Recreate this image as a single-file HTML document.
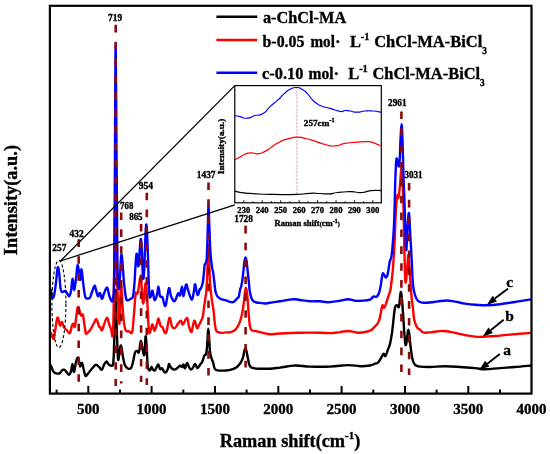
<!DOCTYPE html>
<html><head><meta charset="utf-8"><title>Raman spectra</title>
<style>
html,body{margin:0;padding:0;background:#fff;}
svg{display:block;}
text{font-family:'Liberation Serif','Times New Roman',serif;font-weight:bold;fill:#000;stroke:#000;stroke-width:0.35px;}
</style></head><body>
<svg width="550" height="454" viewBox="0 0 550 454">
<rect x="0" y="0" width="550" height="454" fill="#fff"/>

<g fill="none" stroke-width="2.4" stroke-linejoin="round" stroke-linecap="round">
<path stroke="#000" d="M50.3,365.9 C50.4,365.9 50.5,364.9 51.0,365.9 C51.5,366.9 52.2,369.4 53.0,370.8 C53.8,372.2 54.0,372.4 55.0,373.0 C56.0,373.6 57.0,373.6 58.0,373.6 C59.0,373.6 59.2,373.7 60.0,373.0 C60.8,372.3 61.2,371.0 62.0,370.3 C62.8,369.6 63.1,369.4 64.0,369.7 C64.9,370.0 65.5,371.0 66.5,372.0 C67.5,373.0 68.1,374.8 69.0,374.7 C69.9,374.6 70.3,373.5 71.0,371.4 C71.7,369.3 71.9,364.1 72.5,364.2 C73.1,364.3 73.3,372.4 74.0,372.0 C74.7,371.6 75.1,364.9 76.0,362.0 C76.9,359.1 77.5,356.7 78.3,357.6 C79.1,358.5 79.3,365.3 80.0,366.4 C80.7,367.5 81.2,362.1 82.0,363.0 C82.8,363.9 83.3,368.2 84.0,370.8 C84.7,373.4 84.7,375.2 85.5,375.8 C86.3,376.4 86.9,374.8 88.0,373.6 C89.1,372.4 90.0,370.9 91.0,369.7 C92.0,368.5 92.0,368.5 93.0,367.5 C94.0,366.5 94.8,364.9 96.0,364.8 C97.2,364.7 98.2,366.4 99.0,367.0 C99.8,367.6 99.4,367.5 100.0,368.0 C100.6,368.5 101.2,370.4 102.0,369.7 C102.8,369.0 103.1,366.4 104.0,364.7 C104.9,363.0 105.7,361.6 106.5,361.4 C107.3,361.2 107.3,362.8 108.0,363.6 C108.7,364.4 109.2,365.0 110.0,365.3 C110.8,365.6 111.3,366.4 112.0,365.3 C112.7,364.2 112.9,369.1 113.5,360.0 C114.1,350.9 114.4,334.0 114.8,320.0 C115.2,306.0 115.3,288.0 115.7,290.0 C116.1,292.0 116.3,316.3 116.8,330.0 C117.3,343.7 117.5,354.3 118.0,358.7 C118.5,363.1 118.9,354.6 119.5,352.0 C120.1,349.4 120.3,344.5 121.0,345.5 C121.7,346.5 122.2,353.0 123.0,357.0 C123.8,361.0 124.0,363.0 125.0,365.3 C126.0,367.6 126.8,368.1 128.0,368.6 C129.2,369.1 130.0,369.3 131.0,368.0 C132.0,366.7 132.2,365.1 133.0,362.0 C133.8,358.9 134.2,354.8 135.0,352.6 C135.8,350.4 136.2,351.1 137.0,351.0 C137.8,350.9 138.2,354.1 139.0,352.0 C139.8,349.9 140.1,340.7 140.9,340.6 C141.7,340.5 142.3,348.8 143.0,351.5 C143.7,354.2 143.9,357.0 144.5,354.0 C145.1,351.0 145.2,334.6 145.8,336.4 C146.4,338.2 147.0,356.5 147.5,363.0 C148.0,369.5 148.0,367.5 148.5,369.0 C149.0,370.5 149.4,370.7 150.0,370.3 C150.6,369.9 150.9,367.1 151.5,367.0 C152.1,366.9 152.3,368.9 153.0,369.6 C153.7,370.3 154.2,371.0 155.0,370.3 C155.8,369.6 156.3,367.4 157.0,366.3 C157.7,365.2 157.9,364.1 158.5,364.6 C159.1,365.1 159.3,368.3 160.0,369.0 C160.7,369.7 161.2,367.8 162.0,368.3 C162.8,368.8 163.2,370.8 164.0,371.6 C164.8,372.4 165.2,373.0 166.0,372.3 C166.8,371.6 167.4,370.0 168.0,368.3 C168.6,366.6 168.4,364.1 169.0,364.0 C169.6,363.9 170.0,366.5 171.0,367.6 C172.0,368.7 172.8,369.5 174.0,369.6 C175.2,369.7 175.8,369.1 177.0,368.3 C178.2,367.5 179.0,366.0 180.0,365.7 C181.0,365.4 181.3,367.2 182.0,367.0 C182.7,366.8 182.9,364.3 183.5,364.6 C184.1,364.9 184.3,368.6 185.0,368.3 C185.7,368.0 186.2,363.3 187.0,363.0 C187.8,362.7 188.2,365.7 189.0,367.0 C189.8,368.3 190.2,369.5 191.0,369.6 C191.8,369.7 192.2,368.7 193.0,367.6 C193.8,366.5 194.2,364.0 195.0,364.0 C195.8,364.0 196.4,366.9 197.0,367.6 C197.6,368.3 197.3,368.1 198.0,367.5 C198.7,366.9 199.5,365.5 200.3,364.4 C201.1,363.3 201.6,363.2 202.2,362.0 C202.8,360.8 202.9,359.7 203.4,358.3 C203.9,356.9 204.1,356.0 204.6,355.2 C205.1,354.4 205.4,355.7 205.9,354.3 C206.4,352.9 206.6,351.6 206.9,348.4 C207.2,345.2 207.2,342.5 207.5,338.5 C207.8,334.5 208.0,328.6 208.3,328.6 C208.6,328.6 208.9,334.3 209.2,338.5 C209.5,342.7 209.5,346.1 209.8,349.6 C210.1,353.1 210.4,353.8 210.8,355.8 C211.2,357.8 211.5,358.0 212.0,359.5 C212.5,361.0 212.8,361.5 213.3,363.2 C213.8,364.9 213.9,366.7 214.5,368.1 C215.1,369.5 215.4,369.5 216.4,370.0 C217.4,370.5 218.0,370.5 219.5,370.6 C221.0,370.7 222.3,370.7 224.0,370.6 C225.7,370.5 226.6,370.4 228.0,370.2 C229.4,370.0 229.4,370.2 231.0,369.7 C232.6,369.2 234.1,368.9 235.9,367.7 C237.7,366.5 238.5,365.8 239.9,363.8 C241.3,361.8 242.0,360.4 242.9,357.8 C243.8,355.2 243.8,353.0 244.3,351.0 C244.8,349.0 245.0,347.9 245.4,347.9 C245.8,347.9 246.0,349.0 246.5,351.0 C247.0,353.0 247.2,355.0 247.8,357.8 C248.4,360.6 248.5,362.8 249.3,364.8 C250.1,366.8 250.1,366.9 251.8,367.7 C253.5,368.5 255.4,368.5 257.8,368.7 C260.2,368.9 261.6,368.7 264.0,368.7 C266.4,368.7 266.8,368.9 270.0,368.7 C273.2,368.5 275.0,368.2 280.0,367.6 C285.0,367.0 289.0,365.7 295.0,365.5 C301.0,365.3 303.0,366.4 310.0,366.6 C317.0,366.8 322.4,366.9 330.0,366.6 C337.6,366.3 342.0,365.2 348.0,365.1 C354.0,365.0 355.6,366.1 360.0,366.2 C364.4,366.3 367.0,366.0 370.0,365.5 C373.0,365.0 373.4,364.3 375.0,363.7 C376.6,363.1 376.8,363.7 378.0,362.6 C379.2,361.5 379.9,360.0 381.0,358.2 C382.1,356.4 382.6,354.2 383.5,353.8 C384.4,353.4 384.6,356.9 385.5,356.0 C386.4,355.1 387.1,351.8 388.0,349.4 C388.9,347.0 389.2,347.2 390.0,343.9 C390.8,340.6 391.3,337.8 392.0,332.9 C392.7,328.0 392.9,324.7 393.5,319.6 C394.1,314.5 394.3,310.4 395.0,307.5 C395.7,304.6 396.2,305.5 397.0,305.3 C397.8,305.1 398.2,309.0 399.0,306.4 C399.8,303.8 400.2,290.8 401.0,292.1 C401.8,293.4 402.3,304.4 403.0,313.0 C403.7,321.6 403.9,328.6 404.5,335.0 C405.1,341.4 405.2,346.1 406.0,345.0 C406.8,343.9 407.6,329.4 408.5,329.6 C409.4,329.8 409.7,340.1 410.5,346.0 C411.3,351.9 411.6,355.5 412.5,359.3 C413.4,363.1 413.5,363.3 415.0,364.8 C416.5,366.3 417.0,366.2 420.0,366.6 C423.0,367.0 425.0,367.1 430.0,367.0 C435.0,366.9 439.0,366.3 445.0,366.3 C451.0,366.3 454.0,366.6 460.0,367.0 C466.0,367.4 470.0,367.7 475.0,368.1 C480.0,368.5 480.0,369.2 485.0,369.2 C490.0,369.2 494.0,368.5 500.0,368.1 C506.0,367.7 508.8,367.5 515.0,367.0 C521.2,366.5 527.8,365.8 531.0,365.5"/>
<path stroke="#ff0000" d="M50.3,333.0 C50.4,333.0 50.4,331.8 51.0,333.0 C51.6,334.2 52.7,339.2 53.5,339.0 C54.3,338.8 54.2,336.3 55.0,332.0 C55.8,327.7 56.5,318.9 57.5,317.6 C58.5,316.3 59.1,324.4 60.0,325.3 C60.9,326.2 61.2,321.6 62.0,322.0 C62.8,322.4 63.0,325.8 64.0,327.5 C65.0,329.2 65.8,329.2 67.0,330.3 C68.2,331.4 69.0,334.0 70.0,333.0 C71.0,332.0 71.3,327.2 72.0,325.3 C72.7,323.4 72.9,323.5 73.5,323.7 C74.1,323.9 74.3,328.9 75.0,326.4 C75.7,323.9 76.3,314.8 77.0,311.0 C77.7,307.2 77.7,306.3 78.5,307.2 C79.3,308.1 80.1,313.8 81.0,315.4 C81.9,317.0 82.1,312.1 83.0,315.4 C83.9,318.7 84.7,328.5 85.5,332.0 C86.3,335.5 86.1,333.3 87.0,333.0 C87.9,332.7 88.6,332.3 90.0,330.3 C91.4,328.3 92.7,325.2 94.0,323.0 C95.3,320.8 95.5,318.6 96.5,319.3 C97.5,320.0 98.3,324.9 99.0,326.4 C99.7,327.9 99.4,326.2 100.0,327.0 C100.6,327.8 101.2,330.7 102.0,330.2 C102.8,329.7 103.0,327.2 104.0,324.7 C105.0,322.2 106.0,317.8 107.0,317.6 C108.0,317.4 108.2,321.3 109.0,323.6 C109.8,325.9 110.2,326.7 111.0,329.1 C111.8,331.5 112.3,339.4 112.8,335.6 C113.3,331.8 113.3,325.1 113.6,310.0 C113.9,294.9 114.0,282.0 114.3,260.0 C114.6,238.0 114.8,201.0 115.2,200.0 C115.6,199.0 115.8,238.0 116.2,255.0 C116.6,272.0 116.8,275.6 117.2,285.0 C117.6,294.4 117.7,294.2 118.2,302.0 C118.7,309.8 119.1,324.4 119.5,324.0 C119.9,323.6 120.0,307.4 120.3,300.0 C120.6,292.6 120.7,288.6 121.0,287.0 C121.3,285.4 121.5,288.4 121.8,292.0 C122.1,295.6 122.2,299.8 122.5,305.0 C122.8,310.2 123.0,313.8 123.4,318.0 C123.8,322.2 124.0,323.4 124.5,326.0 C125.0,328.6 125.1,329.7 126.0,330.8 C126.9,331.9 127.8,331.0 129.0,331.3 C130.2,331.6 131.1,334.7 132.0,332.4 C132.9,330.1 132.8,327.5 133.5,320.0 C134.2,312.5 134.9,300.2 135.5,295.0 C136.1,289.8 136.0,294.4 136.5,293.8 C137.0,293.2 137.1,295.3 138.0,292.0 C138.9,288.7 139.8,275.1 140.8,277.4 C141.8,279.7 142.0,302.4 143.0,303.5 C144.0,304.6 144.9,282.7 145.8,283.0 C146.7,283.3 146.9,295.3 147.5,305.0 C148.1,314.7 148.3,326.8 149.0,331.5 C149.7,336.2 150.3,330.1 151.0,328.7 C151.7,327.3 151.8,324.0 152.5,324.4 C153.2,324.8 153.6,331.0 154.5,330.8 C155.4,330.6 156.2,326.0 157.0,323.6 C157.8,321.2 157.8,318.2 158.5,318.6 C159.2,319.0 159.7,324.1 160.5,325.8 C161.3,327.5 161.7,325.9 162.5,327.2 C163.3,328.5 163.7,331.3 164.5,332.2 C165.3,333.1 165.5,334.4 166.5,331.5 C167.5,328.6 168.4,318.9 169.5,317.9 C170.6,316.9 170.9,324.5 172.0,326.5 C173.1,328.5 173.8,328.6 175.0,328.0 C176.2,327.4 176.8,325.0 178.0,323.6 C179.2,322.2 180.0,320.6 181.0,320.8 C182.0,321.0 181.8,325.0 183.0,324.4 C184.2,323.8 185.8,317.5 187.0,317.9 C188.2,318.3 188.1,323.7 189.0,326.5 C189.9,329.3 190.7,332.4 191.5,332.0 C192.3,331.6 192.4,326.8 193.1,324.6 C193.8,322.4 194.0,320.1 194.8,320.8 C195.6,321.5 196.1,327.2 197.0,328.0 C197.9,328.8 198.3,326.2 199.2,324.6 C200.1,323.0 200.6,322.0 201.4,320.2 C202.2,318.4 202.5,318.4 203.0,315.8 C203.5,313.2 203.7,310.3 204.1,307.0 C204.5,303.7 204.8,302.4 205.2,299.3 C205.6,296.2 205.9,296.5 206.3,291.6 C206.7,286.7 206.8,284.3 207.2,275.0 C207.6,265.7 207.8,246.0 208.3,245.0 C208.8,244.0 209.1,262.0 209.5,270.0 C209.9,278.0 209.7,279.1 210.2,285.0 C210.7,290.9 211.1,294.2 211.8,299.3 C212.5,304.4 212.9,305.9 213.5,310.3 C214.1,314.7 214.2,317.6 214.6,321.3 C215.0,325.0 215.2,326.9 215.7,329.0 C216.2,331.1 216.1,331.0 217.3,331.8 C218.5,332.6 220.0,332.8 221.7,332.9 C223.4,333.0 224.2,332.5 226.0,332.4 C227.8,332.3 228.7,332.8 230.6,332.2 C232.5,331.6 233.9,331.2 235.7,329.3 C237.5,327.4 238.2,326.0 239.5,322.9 C240.8,319.8 241.1,318.3 242.0,314.0 C242.9,309.7 243.4,305.6 244.0,301.2 C244.6,296.8 244.6,294.7 245.0,292.0 C245.4,289.3 245.5,287.7 245.9,287.7 C246.3,287.7 246.5,289.3 246.9,292.0 C247.3,294.7 247.4,295.8 247.8,301.2 C248.2,306.6 248.5,313.4 249.1,319.0 C249.7,324.6 249.6,326.9 251.0,329.3 C252.4,331.7 253.5,330.4 256.1,331.2 C258.7,332.0 261.2,332.5 264.0,333.1 C266.8,333.7 266.8,334.1 270.0,334.2 C273.2,334.3 274.0,333.8 280.0,333.5 C286.0,333.2 292.0,332.9 300.0,332.7 C308.0,332.5 314.0,332.6 320.0,332.7 C326.0,332.8 326.0,333.2 330.0,333.1 C334.0,333.0 336.4,332.5 340.0,332.1 C343.6,331.7 345.0,331.0 348.0,331.0 C351.0,331.0 352.6,331.8 355.0,332.1 C357.4,332.4 357.0,333.0 360.0,332.7 C363.0,332.4 367.0,331.9 370.0,330.6 C373.0,329.3 373.4,327.8 375.0,326.3 C376.6,324.8 377.0,324.8 378.0,323.0 C379.0,321.2 379.2,320.3 379.9,317.5 C380.6,314.7 381.0,311.5 381.5,309.0 C382.0,306.5 382.0,305.4 382.6,305.2 C383.2,305.0 383.5,308.4 384.3,307.8 C385.1,307.2 385.7,304.4 386.5,302.0 C387.3,299.6 387.7,298.4 388.5,296.0 C389.3,293.6 389.8,293.0 390.4,290.0 C391.0,287.0 391.1,285.0 391.6,281.0 C392.1,277.0 392.4,274.7 392.8,270.0 C393.2,265.3 393.3,263.6 393.7,257.6 C394.1,251.6 394.3,249.1 394.7,240.0 C395.1,230.9 395.3,220.9 395.8,212.0 C396.3,203.1 396.8,198.4 397.3,195.6 C397.8,192.8 398.0,200.1 398.5,198.0 C399.0,195.9 399.4,190.6 400.0,185.0 C400.6,179.4 400.9,169.0 401.5,170.0 C402.1,171.0 402.5,178.0 403.0,190.0 C403.5,202.0 403.7,217.0 404.0,230.0 C404.3,243.0 404.2,244.6 404.5,255.0 C404.8,265.4 405.0,279.0 405.5,282.0 C406.0,285.0 406.4,275.4 407.0,270.0 C407.6,264.6 407.9,253.7 408.5,255.0 C409.1,256.3 409.4,268.2 410.0,276.5 C410.6,284.8 410.9,289.9 411.5,296.3 C412.1,302.7 412.5,304.2 413.0,308.6 C413.5,313.0 413.4,315.2 414.0,318.5 C414.6,321.8 415.2,323.2 416.0,325.2 C416.8,327.2 417.2,327.6 418.0,328.5 C418.8,329.4 419.0,328.8 420.0,329.6 C421.0,330.4 421.0,331.8 423.0,332.4 C425.0,333.0 426.6,332.7 430.0,332.4 C433.4,332.1 436.6,331.3 440.0,331.1 C443.4,330.9 444.0,330.9 447.0,331.3 C450.0,331.7 451.4,332.1 455.0,332.9 C458.6,333.7 461.0,334.4 465.0,335.1 C469.0,335.8 471.4,336.3 475.0,336.6 C478.6,336.9 479.0,336.9 483.0,336.8 C487.0,336.7 489.6,336.4 495.0,336.0 C500.4,335.6 502.8,335.2 510.0,334.6 C517.2,334.0 526.8,333.2 531.0,332.9"/>
<path stroke="#0000ff" d="M50.3,290.5 C50.4,290.4 50.7,288.8 51.0,290.2 C51.3,291.6 51.4,296.3 52.0,297.4 C52.6,298.5 53.2,298.7 54.0,295.7 C54.8,292.7 55.3,288.0 56.0,282.5 C56.7,277.0 56.9,270.4 57.5,268.2 C58.1,266.0 58.4,267.5 59.0,271.5 C59.6,275.5 59.9,283.9 60.5,288.0 C61.1,292.1 61.1,291.3 62.0,291.9 C62.9,292.5 64.0,290.8 65.0,291.0 C66.0,291.2 66.2,291.9 67.0,293.0 C67.8,294.1 68.2,296.6 69.0,296.3 C69.8,296.0 70.3,294.8 71.0,291.3 C71.7,287.8 71.9,279.0 72.5,278.7 C73.1,278.4 73.3,289.9 74.0,290.0 C74.7,290.1 75.2,284.0 76.0,279.0 C76.8,274.0 77.0,264.8 77.8,265.0 C78.6,265.2 79.3,278.9 80.0,279.8 C80.7,280.7 80.9,269.0 81.5,269.3 C82.1,269.6 82.3,276.1 83.0,281.4 C83.7,286.7 84.2,292.3 85.0,295.7 C85.8,299.1 86.0,298.2 87.0,298.5 C88.0,298.8 89.0,298.7 90.0,297.4 C91.0,296.1 91.1,294.3 92.0,292.0 C92.9,289.7 93.7,286.2 94.5,285.8 C95.3,285.4 95.3,287.9 96.0,290.0 C96.7,292.1 97.2,295.7 98.0,296.3 C98.8,296.9 99.2,292.5 100.0,293.0 C100.8,293.5 101.2,298.9 102.0,299.0 C102.8,299.1 103.0,295.8 104.0,293.5 C105.0,291.2 106.0,287.3 107.0,287.5 C108.0,287.7 108.2,292.1 109.0,294.6 C109.8,297.1 110.2,299.3 111.0,300.0 C111.8,300.7 112.3,304.0 113.0,298.0 C113.7,292.0 113.9,299.6 114.3,270.0 C114.7,240.4 114.7,195.2 115.0,150.0 C115.3,104.8 115.4,44.0 115.7,44.0 C116.0,44.0 116.2,106.8 116.5,150.0 C116.8,193.2 117.0,232.3 117.4,260.0 C117.8,287.7 118.2,285.2 118.7,288.6 C119.2,292.0 119.3,283.8 119.9,277.0 C120.5,270.2 120.8,253.5 121.6,254.6 C122.4,255.7 123.1,273.8 124.0,282.5 C124.9,291.2 125.2,294.5 126.0,298.0 C126.8,301.5 127.0,300.1 128.0,300.2 C129.0,300.3 130.0,299.3 131.0,298.5 C132.0,297.7 132.3,299.5 133.0,296.3 C133.7,293.1 133.8,291.0 134.5,282.5 C135.2,274.0 135.7,257.3 136.5,254.0 C137.3,250.7 137.6,269.0 138.5,266.0 C139.4,263.0 140.0,236.7 141.0,239.2 C142.0,241.7 142.4,281.7 143.5,278.7 C144.6,275.7 145.3,222.5 146.4,224.4 C147.5,226.3 148.2,273.5 149.0,288.0 C149.8,302.5 149.8,296.3 150.5,296.8 C151.2,297.3 151.7,290.1 152.5,290.7 C153.3,291.3 153.6,299.2 154.5,300.0 C155.4,300.8 156.2,297.3 157.0,294.6 C157.8,291.9 157.9,286.4 158.5,286.7 C159.1,287.0 159.2,293.9 160.0,296.0 C160.8,298.1 161.7,295.9 162.5,297.3 C163.3,298.7 163.4,301.5 164.0,303.2 C164.6,304.9 164.9,306.8 165.5,305.9 C166.1,305.0 166.3,302.2 167.0,298.6 C167.7,295.0 168.2,288.5 169.0,288.0 C169.8,287.5 170.0,293.3 171.0,296.0 C172.0,298.7 173.0,300.8 174.0,301.3 C175.0,301.8 175.2,300.2 176.0,298.6 C176.8,297.0 177.2,294.0 178.0,293.3 C178.8,292.6 179.2,296.6 180.0,295.3 C180.8,294.0 181.3,286.6 182.0,286.7 C182.7,286.8 182.7,296.4 183.5,296.0 C184.3,295.6 185.1,285.9 186.0,284.7 C186.9,283.5 187.0,287.2 188.0,290.0 C189.0,292.8 190.1,297.0 191.0,298.6 C191.9,300.2 192.0,300.0 192.6,298.2 C193.2,296.4 193.7,292.1 194.2,289.4 C194.7,286.7 194.5,283.4 195.2,284.5 C195.9,285.6 196.6,293.9 197.5,294.9 C198.4,295.9 199.1,290.6 199.7,289.4 C200.3,288.2 200.0,290.1 200.6,288.9 C201.2,287.7 201.9,286.8 202.6,283.6 C203.3,280.4 203.5,276.7 203.9,273.0 C204.3,269.3 204.3,266.9 204.6,265.1 C204.9,263.3 204.9,264.9 205.3,263.8 C205.7,262.7 206.2,263.2 206.6,259.8 C207.0,256.4 206.9,253.6 207.2,246.6 C207.5,239.6 207.6,233.6 207.9,225.0 C208.2,216.4 208.2,203.5 208.5,203.5 C208.8,203.5 209.0,217.7 209.3,225.0 C209.6,232.3 209.7,234.4 209.9,240.0 C210.1,245.6 210.1,247.9 210.5,253.2 C210.9,258.5 211.4,262.4 211.9,266.4 C212.4,270.4 212.7,269.6 213.2,273.0 C213.7,276.4 214.0,279.6 214.5,283.6 C215.0,287.6 215.1,290.2 215.8,292.8 C216.5,295.4 216.8,295.6 217.8,296.8 C218.8,298.0 219.0,298.1 220.6,298.8 C222.2,299.5 224.5,299.9 226.0,300.4 C227.5,300.9 226.6,300.8 228.0,301.2 C229.4,301.6 231.3,302.7 233.1,302.2 C234.9,301.7 235.8,299.7 236.9,298.6 C238.0,297.5 238.2,298.3 238.8,296.5 C239.4,294.7 239.6,291.8 240.1,289.7 C240.6,287.6 240.8,288.1 241.3,286.0 C241.8,283.9 242.0,282.5 242.5,279.0 C243.0,275.5 243.3,272.2 243.7,268.5 C244.1,264.8 244.2,262.7 244.6,260.5 C245.0,258.3 245.2,257.4 245.6,257.4 C246.0,257.4 246.1,258.3 246.5,260.5 C246.9,262.7 247.0,264.4 247.4,268.5 C247.8,272.6 248.2,276.2 248.7,280.9 C249.2,285.6 249.3,288.5 249.9,292.0 C250.5,295.5 250.9,296.7 251.6,298.5 C252.3,300.3 252.5,300.4 253.5,301.2 C254.5,302.0 255.4,302.2 256.7,302.5 C258.0,302.8 258.3,302.7 260.0,302.9 C261.7,303.1 263.0,303.5 265.0,303.5 C267.0,303.5 267.0,303.2 270.0,302.8 C273.0,302.4 276.0,301.9 280.0,301.3 C284.0,300.7 287.0,300.0 290.0,299.6 C293.0,299.2 293.0,299.1 295.0,299.2 C297.0,299.3 297.0,299.6 300.0,300.0 C303.0,300.4 306.0,301.0 310.0,301.3 C314.0,301.6 316.4,301.1 320.0,301.3 C323.6,301.5 324.0,302.3 328.0,302.2 C332.0,302.1 336.0,301.3 340.0,300.7 C344.0,300.1 345.0,299.2 348.0,299.2 C351.0,299.2 352.2,300.4 355.0,300.7 C357.8,301.0 359.0,300.9 362.0,300.7 C365.0,300.5 367.7,300.4 370.0,299.6 C372.3,298.8 372.0,297.2 373.3,296.6 C374.6,296.0 375.5,297.4 376.6,296.8 C377.7,296.2 378.0,295.5 378.8,293.5 C379.6,291.5 379.9,289.9 380.5,287.0 C381.1,284.1 381.2,281.9 381.6,279.2 C382.0,276.5 382.3,274.7 382.7,273.7 C383.1,272.7 383.1,273.5 383.8,274.3 C384.5,275.1 385.2,277.6 386.0,277.6 C386.8,277.6 387.1,276.2 387.6,274.3 C388.1,272.4 388.3,270.7 388.7,268.2 C389.1,265.7 389.2,264.0 389.8,261.6 C390.4,259.2 390.9,259.7 391.5,256.1 C392.1,252.5 392.3,249.7 392.8,243.5 C393.3,237.3 393.6,233.7 394.0,225.0 C394.4,216.3 394.5,210.0 394.8,200.0 C395.1,190.0 395.1,183.3 395.5,175.0 C395.9,166.7 395.9,160.4 396.6,158.6 C397.3,156.8 398.4,169.6 399.2,165.9 C400.0,162.2 400.0,148.4 400.5,140.0 C401.0,131.6 401.1,124.1 401.5,124.1 C401.9,124.1 402.1,128.8 402.5,140.0 C402.9,151.2 403.2,168.0 403.6,180.0 C404.0,192.0 404.0,189.0 404.4,200.0 C404.8,211.0 405.1,225.0 405.5,235.0 C405.9,245.0 405.9,249.0 406.2,250.0 C406.5,251.0 406.5,247.4 407.0,240.0 C407.5,232.6 408.0,213.9 408.7,212.9 C409.4,211.9 409.7,225.6 410.3,235.0 C410.9,244.4 411.2,250.1 411.7,260.0 C412.2,269.9 412.3,277.4 413.0,284.4 C413.7,291.4 414.0,291.7 415.0,295.0 C416.0,298.3 416.4,299.4 418.0,300.9 C419.6,302.4 420.6,302.4 423.0,302.7 C425.4,303.0 427.0,302.8 430.0,302.5 C433.0,302.2 434.6,301.8 438.0,301.4 C441.4,301.0 443.6,300.5 447.0,300.5 C450.4,300.5 451.4,301.0 455.0,301.6 C458.6,302.2 461.0,303.0 465.0,303.6 C469.0,304.2 470.6,304.4 475.0,304.7 C479.4,305.0 482.0,305.4 487.0,305.3 C492.0,305.2 494.4,304.9 500.0,304.2 C505.6,303.5 508.8,303.0 515.0,302.0 C521.2,301.0 527.8,299.9 531.0,299.4"/>
</g>
<g stroke="#8b0a0a" stroke-width="2.6" fill="none" stroke-dasharray="7.6 9.27">
<line x1="78.7" y1="239.3" x2="78.7" y2="382"/>
<line x1="115.7" y1="24.8" x2="115.7" y2="386"/>
<line x1="121.2" y1="212.5" x2="121.2" y2="383.5"/>
<line x1="141.1" y1="224" x2="141.1" y2="382"/>
<line x1="146.8" y1="192.7" x2="146.8" y2="385"/>
<line x1="208.5" y1="182.4" x2="208.5" y2="376"/>
<line x1="245.6" y1="225.8" x2="245.6" y2="367.5"/>
<line x1="401.4" y1="111.4" x2="401.4" y2="372.7"/>
<line x1="409.1" y1="183" x2="409.1" y2="375"/>
</g>
<text x="52.3" y="250.5" font-size="9.6" textLength="14.1" lengthAdjust="spacingAndGlyphs">257</text>
<text x="69.6" y="236.8" font-size="9.6" textLength="14.1" lengthAdjust="spacingAndGlyphs">432</text>
<text x="108.0" y="20.6" font-size="9.6" textLength="14.1" lengthAdjust="spacingAndGlyphs">719</text>
<text x="120.1" y="208.6" font-size="9.6" textLength="13.2" lengthAdjust="spacingAndGlyphs">768</text>
<text x="129.2" y="219.6" font-size="9.6" textLength="13.4" lengthAdjust="spacingAndGlyphs">865</text>
<text x="138.8" y="189.4" font-size="9.6" textLength="14.3" lengthAdjust="spacingAndGlyphs">954</text>
<text x="196.8" y="177.6" font-size="9.6" textLength="18.7" lengthAdjust="spacingAndGlyphs">1437</text>
<text x="234.2" y="222.1" font-size="9.6" textLength="18.8" lengthAdjust="spacingAndGlyphs">1728</text>
<text x="388.1" y="105.9" font-size="9.6" textLength="18.5" lengthAdjust="spacingAndGlyphs">2961</text>
<text x="404.4" y="177.6" font-size="9.6" textLength="18.1" lengthAdjust="spacingAndGlyphs">3031</text>
<g stroke="#000" stroke-width="1.3" fill="none">
<line x1="234.8" y1="85.6" x2="60.5" y2="261"/>
<line x1="234.8" y1="204.8" x2="60.5" y2="261"/>
</g>
<ellipse cx="58.9" cy="304" rx="7" ry="43.6" fill="none" stroke="#000" stroke-width="1.1" stroke-dasharray="3 2.2"/>
<rect x="234.8" y="85.6" width="146.5" height="117.2" fill="#fff" stroke="#000" stroke-width="1.2"/>
<line x1="296.9" y1="87" x2="296.9" y2="195" stroke="#eec4c4" stroke-width="1.5" stroke-dasharray="2.5 1"/>
<g fill="none" stroke-width="1.2" stroke-linejoin="round">
<path stroke="#0000ff" d="M234.8,115.6 C236.5,115.9 235.8,115.7 240.0,116.6 C244.2,117.5 242.4,118.6 247.4,118.2 C252.4,117.8 249.8,117.0 255.0,115.5 C260.2,114.0 258.0,116.6 263.0,113.6 C268.0,110.6 265.0,111.2 270.0,106.6 C275.0,102.0 273.3,104.1 278.0,99.9 C282.7,95.7 280.0,97.4 284.0,93.9 C288.0,90.4 285.7,91.4 290.0,89.3 C294.3,87.2 293.0,87.5 297.0,87.5 C301.0,87.5 298.7,87.4 302.0,89.3 C305.3,91.2 303.7,89.9 307.0,93.2 C310.3,96.5 308.7,95.8 312.0,99.3 C315.3,102.8 313.7,101.3 317.0,103.6 C320.3,105.9 317.7,104.6 322.0,106.2 C326.3,107.8 324.0,106.6 330.0,108.3 C336.0,110.0 335.0,110.7 340.0,111.4 C345.0,112.1 341.7,110.6 345.0,110.5 C348.3,110.4 346.0,110.4 350.0,111.0 C354.0,111.6 352.0,112.2 357.0,112.2 C362.0,112.2 359.7,111.4 365.0,111.0 C370.3,110.6 367.6,110.6 373.0,111.0 C378.4,111.4 378.5,111.8 381.3,112.2"/>
<path stroke="#ff0000" d="M234.8,159.8 C236.5,158.9 236.6,158.9 240.0,157.0 C243.4,155.1 241.3,155.6 245.0,154.2 C248.7,152.8 246.7,153.0 251.0,152.8 C255.3,152.6 253.3,154.2 258.0,153.7 C262.7,153.2 260.3,153.7 265.0,151.4 C269.7,149.1 267.0,149.9 272.0,146.7 C277.0,143.5 274.7,144.3 280.0,141.7 C285.3,139.1 282.3,140.4 288.0,138.9 C293.7,137.4 291.3,137.4 297.0,137.2 C302.7,137.0 299.0,137.1 305.0,138.4 C311.0,139.7 308.3,139.1 315.0,141.1 C321.7,143.1 318.3,142.9 325.0,144.5 C331.7,146.1 328.3,146.3 335.0,145.9 C341.7,145.5 337.3,144.6 345.0,143.4 C352.7,142.2 350.3,142.8 358.0,142.2 C365.7,141.6 362.3,141.3 368.0,141.7 C373.7,142.1 370.6,142.0 375.0,143.4 C379.4,144.8 379.2,145.1 381.3,145.9"/>
<path stroke="#000" d="M234.8,191.1 C236.5,191.5 235.4,191.6 240.0,192.3 C244.6,193.0 242.0,192.7 248.7,193.3 C255.4,193.9 251.7,193.6 260.0,194.0 C268.3,194.4 261.7,194.3 273.7,194.4 C285.7,194.5 284.0,194.8 296.0,194.4 C308.0,194.0 301.8,193.6 309.8,193.3 C317.8,193.0 313.5,193.3 320.0,193.5 C326.5,193.7 323.3,194.2 329.2,193.9 C335.1,193.6 331.1,193.2 337.6,192.5 C344.1,191.8 342.9,191.9 348.7,191.7 C354.5,191.5 350.4,191.7 355.0,192.0 C359.6,192.3 357.3,193.0 362.6,192.5 C367.9,192.0 364.7,191.2 370.9,190.6 C377.1,190.0 377.8,190.6 381.3,190.6"/>
</g>
<g stroke="#000" stroke-width="0.9">
<line x1="243.8" y1="202.8" x2="243.8" y2="200.2"/>
<line x1="253.0" y1="202.8" x2="253.0" y2="201.2"/>
<line x1="262.2" y1="202.8" x2="262.2" y2="200.2"/>
<line x1="271.4" y1="202.8" x2="271.4" y2="201.2"/>
<line x1="280.7" y1="202.8" x2="280.7" y2="200.2"/>
<line x1="289.9" y1="202.8" x2="289.9" y2="201.2"/>
<line x1="299.1" y1="202.8" x2="299.1" y2="200.2"/>
<line x1="308.3" y1="202.8" x2="308.3" y2="201.2"/>
<line x1="317.5" y1="202.8" x2="317.5" y2="200.2"/>
<line x1="326.7" y1="202.8" x2="326.7" y2="201.2"/>
<line x1="336.0" y1="202.8" x2="336.0" y2="200.2"/>
<line x1="345.2" y1="202.8" x2="345.2" y2="201.2"/>
<line x1="354.4" y1="202.8" x2="354.4" y2="200.2"/>
<line x1="363.6" y1="202.8" x2="363.6" y2="201.2"/>
<line x1="372.8" y1="202.8" x2="372.8" y2="200.2"/>
</g>
<text x="243.8" y="212.7" font-size="8.6" text-anchor="middle">230</text>
<text x="262.2" y="212.7" font-size="8.6" text-anchor="middle">240</text>
<text x="280.7" y="212.7" font-size="8.6" text-anchor="middle">250</text>
<text x="299.1" y="212.7" font-size="8.6" text-anchor="middle">260</text>
<text x="317.5" y="212.7" font-size="8.6" text-anchor="middle">270</text>
<text x="336.0" y="212.7" font-size="8.6" text-anchor="middle">280</text>
<text x="354.4" y="212.7" font-size="8.6" text-anchor="middle">290</text>
<text x="372.8" y="212.7" font-size="8.6" text-anchor="middle">300</text>
<text x="274.6" y="226.3" font-size="8.6">Raman shift<tspan font-size="6.2">(</tspan>cm<tspan dy="-3.2" font-size="6">-1</tspan><tspan dy="3.2" font-size="6.2">)</tspan></text>
<text transform="translate(223.9,174.2) rotate(-90)" font-size="8.6" textLength="55.6" lengthAdjust="spacingAndGlyphs">Intensity(a.u.)</text>
<text x="303.8" y="125.8" font-size="9.2">257cm<tspan dy="-3.6" font-size="6.3">-1</tspan></text>
<rect x="49.9" y="5.8" width="481.6" height="387.8" fill="none" stroke="#000" stroke-width="2.2"/>
<g stroke="#000" stroke-width="2">
<line x1="56.6" y1="393.5" x2="56.6" y2="389.6"/>
<line x1="88.3" y1="393.5" x2="88.3" y2="386.0"/>
<line x1="120.0" y1="393.5" x2="120.0" y2="389.6"/>
<line x1="151.6" y1="393.5" x2="151.6" y2="386.0"/>
<line x1="183.3" y1="393.5" x2="183.3" y2="389.6"/>
<line x1="215.0" y1="393.5" x2="215.0" y2="386.0"/>
<line x1="246.6" y1="393.5" x2="246.6" y2="389.6"/>
<line x1="278.3" y1="393.5" x2="278.3" y2="386.0"/>
<line x1="310.0" y1="393.5" x2="310.0" y2="389.6"/>
<line x1="341.6" y1="393.5" x2="341.6" y2="386.0"/>
<line x1="373.3" y1="393.5" x2="373.3" y2="389.6"/>
<line x1="405.0" y1="393.5" x2="405.0" y2="386.0"/>
<line x1="436.6" y1="393.5" x2="436.6" y2="389.6"/>
<line x1="468.3" y1="393.5" x2="468.3" y2="386.0"/>
<line x1="500.0" y1="393.5" x2="500.0" y2="389.6"/>
</g>
<text x="88.3" y="414.2" font-size="15" text-anchor="middle">500</text>
<text x="151.6" y="414.2" font-size="15" text-anchor="middle">1000</text>
<text x="215.0" y="414.2" font-size="15" text-anchor="middle">1500</text>
<text x="278.3" y="414.2" font-size="15" text-anchor="middle">2000</text>
<text x="341.6" y="414.2" font-size="15" text-anchor="middle">2500</text>
<text x="405.0" y="414.2" font-size="15" text-anchor="middle">3000</text>
<text x="468.3" y="414.2" font-size="15" text-anchor="middle">3500</text>
<text x="531.6" y="414.2" font-size="15" text-anchor="middle">4000</text>
<text x="219.7" y="447" font-size="18.3">Raman shift(cm<tspan dy="-8" font-size="11">-1</tspan><tspan dy="8">)</tspan></text>
<text transform="translate(16.9,255.2) rotate(-90)" font-size="18" textLength="110.2" lengthAdjust="spacingAndGlyphs">Intensity(a.u.)</text>
<g stroke-width="2.6">
<line x1="216.4" y1="16.8" x2="257.3" y2="16.8" stroke="#000"/>
<line x1="216.4" y1="40" x2="257.3" y2="40" stroke="#ff0000"/>
<line x1="216.4" y1="72.7" x2="257.3" y2="72.7" stroke="#0000ff"/>
</g>
<text x="262.9" y="23.0" font-size="16.8" textLength="83.3" lengthAdjust="spacingAndGlyphs">a-ChCl-MA</text>
<text x="262.5" y="47.3" font-size="16.8" textLength="42.0" lengthAdjust="spacingAndGlyphs">b-0.05</text>
<text x="310.5" y="47.3" font-size="16.8" textLength="24.4" lengthAdjust="spacingAndGlyphs">mol</text>
<text x="334.9" y="47.3" font-size="16.8">·</text>
<text x="349.9" y="47.3" font-size="16.4">L<tspan dy="-7.3" font-size="10.4">-1</tspan></text>
<text x="374.2" y="47.3" font-size="16.8" textLength="108.1" lengthAdjust="spacingAndGlyphs">ChCl-MA-BiCl</text>
<text x="482.2" y="54.4" font-size="9.3">3</text>
<text x="262.1" y="79.2" font-size="16.8" textLength="41.3" lengthAdjust="spacingAndGlyphs">c-0.10</text>
<text x="308.6" y="79.2" font-size="16.8" textLength="25.0" lengthAdjust="spacingAndGlyphs">mol</text>
<text x="333.6" y="79.2" font-size="16.8">·</text>
<text x="348.2" y="79.2" font-size="16.4">L<tspan dy="-7.3" font-size="10.4">-1</tspan></text>
<text x="372.4" y="79.2" font-size="16.8" textLength="107.8" lengthAdjust="spacingAndGlyphs">ChCl-MA-BiCl</text>
<text x="480.1" y="86.3" font-size="9.3">3</text>
<line x1="508.2" y1="288.4" x2="494.8" y2="298.6" stroke="#000" stroke-width="1.9"/><polygon points="486.9,304.7 492.7,295.8 497.0,301.5" fill="#000"/>
<line x1="503.7" y1="319.7" x2="490.7" y2="330.2" stroke="#000" stroke-width="1.9"/><polygon points="482.9,336.5 488.4,327.4 492.9,333.0" fill="#000"/>
<line x1="499.8" y1="353.9" x2="487.3" y2="363.7" stroke="#000" stroke-width="1.9"/><polygon points="479.4,369.8 485.1,360.8 489.5,366.5" fill="#000"/>
<text x="506.3" y="287.4" font-size="15.5">c</text>
<text x="505.3" y="320.9" font-size="15.5">b</text>
<text x="503.3" y="355.4" font-size="15.5">a</text>
</svg>
</body></html>
